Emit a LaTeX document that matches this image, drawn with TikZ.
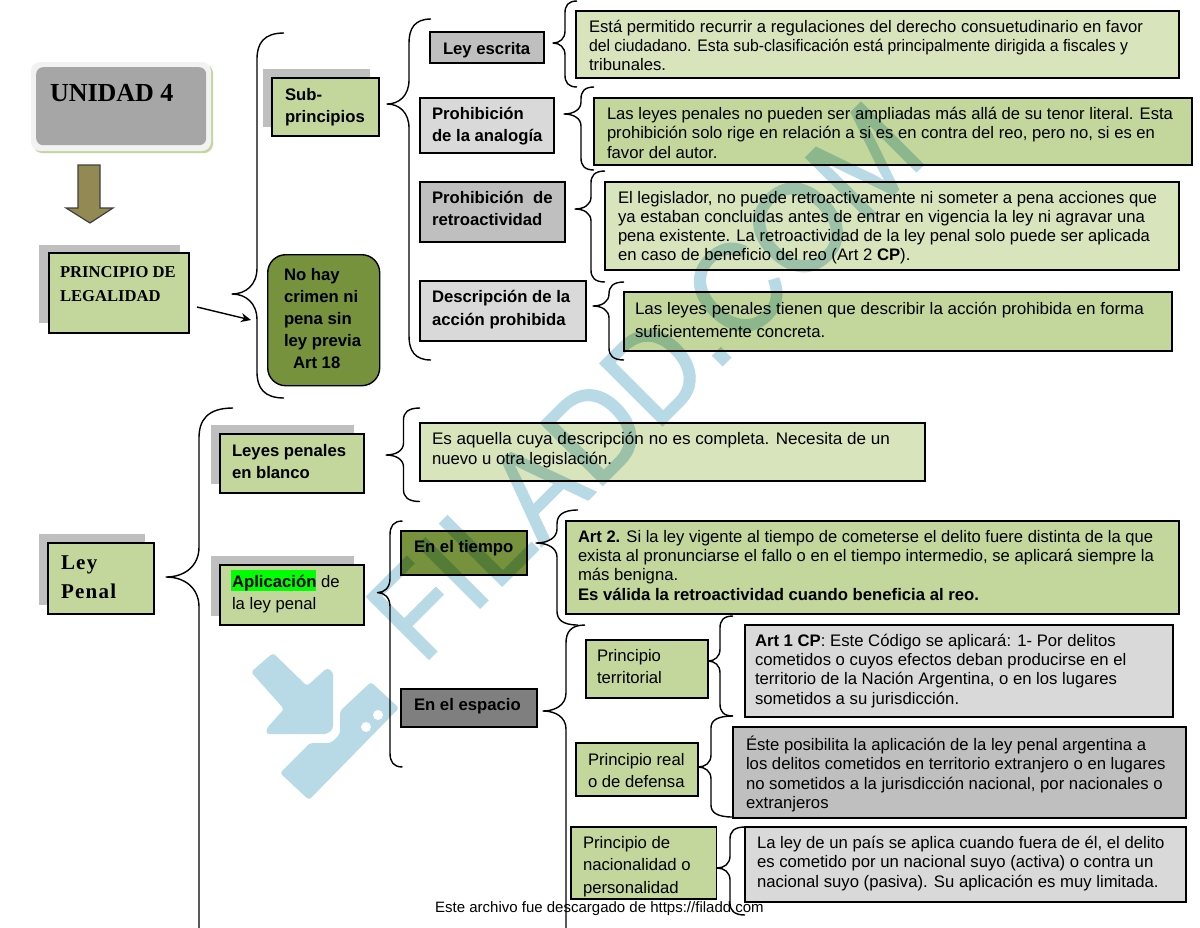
\documentclass[tikz,border=0pt]{standalone}
\usepackage{graphicx}
\usepackage{fontspec}
\setmainfont{Liberation Sans}
\newfontfamily\capfont{Liberation Serif}
\usetikzlibrary{arrows.meta}
\definecolor{gL}{HTML}{D8E4BC}
\definecolor{gM}{HTML}{C3D69B}
\definecolor{gD}{HTML}{76923C}
\definecolor{shd}{HTML}{BFBFBF}
\definecolor{gy}{HTML}{D9D9D9}
\definecolor{gyD}{HTML}{7F7F7F}
\definecolor{olv}{HTML}{938953}
\definecolor{wm}{HTML}{B8DAE6}
\tikzset{
  boxs/.style={draw=black,line width=1.4pt,inner sep=0pt,outer sep=0pt,anchor=north west},
  brc/.style={draw=black,line width=1.4pt,line join=round},
}
% box: name x1 y1 x2 y2 fill
\newcommand\bx[6]{\node[boxs,fill=#6,minimum width={(#4-#2)*1pt},minimum height={(#5-#3)*1pt}] (#1) at (#2,#3) {};}
% shadow: name x1 y1 x2 y2
\newcommand\shb[5]{\fill[shd] (#2,#3) rectangle (#4,#5) coordinate (#1);}
% text: [font cmds] name x ymid leading text
\newcommand\tx[6][]{\node[anchor=north west,inner sep=0pt,outer sep=0pt,align=left,font={\fontsize{16.7}{#5}\selectfont #1}] (#2) at (#3,#4-7) {\rule{0pt}{12pt}#6};}
% one line set to a given width
\newcommand\jl[2]{\resizebox{#1pt}{\height}{#2}}
% brace: xtip xv xend ytop ymid ybot r
\newcommand\cbr[7]{\draw[brc] (#3,#4) .. controls ({#2+0.25*(#3-#2)},#4) and (#2,{#4+0.4*#7}) .. (#2,{#4+#7}) -- (#2,{#5-#7}) .. controls (#2,{#5-0.35*#7}) and ({#2-0.45*(#2-#1)},#5) .. (#1,#5) .. controls ({#2-0.45*(#2-#1)},#5) and (#2,{#5+0.35*#7}) .. (#2,{#5+#7}) -- (#2,{#6-#7}) .. controls (#2,{#6-0.4*#7}) and ({#2+0.25*(#3-#2)},#6) .. (#3,#6);}
\begin{document}
\begin{tikzpicture}[x=1pt,y=-1pt]
\useasboundingbox (0,0) rectangle (1200,927);
\fill[white] (0,0) rectangle (1200,927);
% UNIDAD 4
\fill[gM,rounded corners=9pt] (33,64) rectangle (213,153);
\fill[black!5,rounded corners=9pt] (31,62) rectangle (211,151);
\node[fill=black!35,rounded corners=7pt,minimum width=170pt,minimum height=78pt,inner sep=0pt,anchor=north west] (unidad) at (36,67) {};
\tx[\capfont\bfseries\fontsize{26}{26}\selectfont]{tunidad}{50}{91}{26}{UNIDAD 4}
% block arrow
\filldraw[fill=olv,draw=black!75,line width=1.2pt,line join=miter] (78,165) -- (100,165) -- (100,208) -- (113,208) -- (90,223) -- (66,208) -- (78,208) -- cycle;
% Principio de legalidad
\shb{s1}{39}{245}{180}{323}
\bx{plegal}{49}{253}{189}{333}{gM}
\tx[\capfont\bfseries\fontsize{16.6}{24}\selectfont]{tplegal}{60}{272}{24}{PRINCIPIO DE\\LEGALIDAD}
% Sub-principios
\shb{s2}{263}{69}{370}{127}
\bx{subp}{272}{78}{379}{136}{gM}
\tx[\bfseries]{tsubp}{285}{95}{22}{Sub-\\principios}
% No hay crimen
\node[draw=black,line width=1.4pt,fill=gD,rounded corners=18pt,minimum width=112pt,minimum height=131pt,inner sep=0pt,anchor=north west] (nohay) at (267,254) {};
\tx[\bfseries]{tnohay}{284}{275}{22}{No hay\\crimen ni\\pena sin\\ley previa\\\hspace*{9pt}Art 18}
% arrow
\coordinate (a1) at (197,307);
\coordinate (a2) at (251,320);
\draw[line width=1.4pt,-{Stealth[length=10pt,width=9pt]}] (a1) -- (a2);
% braces upper
\cbr{232}{257}{284}{33}{294}{398}{26}
\cbr{387}{409}{431}{19}{104}{360}{24}
\cbr{553}{565}{577}{1}{43}{87}{12}
\cbr{564}{581}{594}{87}{114}{170}{12}
\cbr{575}{591}{605}{171}{209}{282}{12}
\cbr{593}{609}{624}{282}{306}{360}{12}
% left column
\bx{lesc}{430}{32}{544}{63}{shd}
\tx[\bfseries]{tlesc}{443}{49}{22}{Ley escrita}
\bx{pana}{420}{98}{554}{153}{gy}
\tx[\bfseries]{tpana}{432}{114}{22}{Prohibición\\de la analogía}
\bx{pret}{420}{182}{565}{242}{shd}
\tx[\bfseries]{tpret}{432}{198}{22}{Prohibición\ \ de\\retroactividad}
\bx{desc}{420}{281}{586}{341}{gy}
\tx[\bfseries]{tdesc}{432}{297}{23}{Descripción de la\\acción prohibida}
% right column
\bx{b1}{576}{11}{1179}{78}{gL}
\tx{tb1}{589}{27}{19}{\jl{554}{Está permitido recurrir a regulaciones del derecho consuetudinario en favor}\\\jl{539}{del ciudadano. Esta sub-clasificación está principalmente dirigida a fiscales y}\\tribunales.}
\bx{b2}{594}{98}{1192}{165}{gM}
\tx{tb2}{607}{114}{19.5}{\jl{566}{Las leyes penales no pueden ser ampliadas más allá de su tenor literal. Esta}\\\jl{548}{prohibición solo rige en relación a si es en contra del reo, pero no, si es en}\\favor del autor.}
\bx{b3}{605}{182}{1179}{270}{gL}
\tx{tb3}{618}{198}{19.2}{\jl{539}{El legislador, no puede retroactivamente ni someter a pena acciones que}\\\jl{527}{ya estaban concluidas antes de entrar en vigencia la ley ni agravar una}\\\jl{532}{pena existente. La retroactividad de la ley penal solo puede ser aplicada}\\en caso de beneficio del reo (Art 2 \textbf{CP}).}
\bx{b4}{624}{292}{1172}{351}{gM}
\tx{tb4}{635}{309}{23}{\jl{509}{Las leyes penales tienen que describir la acción prohibida en forma}\\suficientemente concreta.}
% Ley penal
\shb{s3}{39}{534}{145}{605}
\bx{lpen}{48}{543}{154}{614}{gM}
\tx[\capfont\bfseries\fontsize{21}{29}\selectfont\addfontfeature{LetterSpace=6}]{tlpen}{61}{563}{29}{Ley\\Penal}
\cbr{166}{199}{233}{408}{577}{960}{30}
% Leyes penales en blanco
\shb{s4}{211}{425}{354}{484}
\bx{lblanco}{220}{434}{364}{493}{gM}
\tx[\bfseries]{tlblanco}{232}{451}{22}{Leyes penales\\en blanco}
\shb{s5}{211}{556}{354}{616}
\bx{aplic}{220}{565}{364}{625}{gM}
\fill[green] (231,570) rectangle (316,591);
\tx{taplic}{232}{582}{22}{\textbf{Aplicación} de\\la ley penal}
\cbr{386}{403.5}{420}{408}{455}{501.5}{12}
\bx{aquella}{420}{423}{925}{481}{gL}
\tx{taquella}{432}{439}{20}{\jl{458}{Es aquella cuya descripción no es completa. Necesita de un}\\nuevo u otra legislación.}
\cbr{377.5}{390}{402.5}{521}{592.6}{767}{14}
\bx{tiempo}{401}{531}{527}{575}{gD}
\tx[\bfseries]{ttiempo}{414}{547}{20}{En el tiempo}
\bx{espacio}{401}{689}{537}{727}{gyD}
\tx[\bfseries]{tespacio}{414}{705}{20}{En el espacio}
\cbr{536}{557}{578}{510}{543}{625}{14}
\bx{art2}{566}{521}{1179}{614}{gM}
\tx{tart2}{578}{537}{19.3}{\jl{575}{\textbf{Art 2.} Si la ley vigente al tiempo de cometerse el delito fuere distinta de la que}\\\jl{576}{exista al pronunciarse el fallo o en el tiempo intermedio, se aplicará siempre la}\\más benigna.\\\textbf{Es válida la retroactividad cuando beneficia al reo.}}
\cbr{543}{566}{585}{625}{711}{960}{18}
\bx{pterr}{586}{640}{708}{698}{gM}
\tx{tpterr}{597}{656}{22}{Principio\\territorial}
\cbr{708}{720}{733}{616}{661}{716}{12}
\bx{art1}{745}{625}{1173}{717}{gy}
\tx{tart1}{755}{641}{19.3}{\textbf{Art 1 CP}: Este Código se aplicará: 1- Por delitos\\cometidos o cuyos efectos deban producirse en el\\territorio de la Nación Argentina, o en los lugares\\sometidos a su jurisdicción.}
\bx{preal}{576}{743}{698}{796}{gM}
\tx{tpreal}{588}{760}{22}{Principio real\\o de defensa}
\cbr{698}{711}{733}{716}{767}{817}{12}
\bx{este}{733}{727}{1186}{818}{shd}
\tx{teste}{746}{743}{19.3}{Éste posibilita la aplicación de la ley penal argentina a\\los delitos cometidos en territorio extranjero o en lugares\\no sometidos a la jurisdicción nacional, por nacionales o\\extranjeros}
\bx{pnac}{571}{827}{716.5}{899}{gM}
\tx{tpnac}{583}{843}{22.5}{Principio de\\nacionalidad o\\personalidad}
\cbr{717}{730}{745}{827}{868}{915}{12}
\bx{lapais}{745}{827}{1186}{902}{gy}
\tx{tlapais}{757}{843}{19.5}{La ley de un país se aplica cuando fuera de él, el delito\\es cometido por un nacional suyo (activa) o contra un\\nacional suyo (pasiva). Su aplicación es muy limitada.}
% footer
\node[anchor=base west,inner sep=0pt,font={\fontsize{15}{16}\selectfont}] (footer) at (435,912) {Este archivo fue descargado de https://filadd.com};
% watermark
\begin{scope}[blend mode=multiply,transparency group]
\node[anchor=base west,inner sep=0pt,rotate=45,text=wm,font={\fontsize{128}{128}\selectfont\addfontfeature{FakeBold=1.2}}] (wmark) at (422,666) {\scalebox{.91}[1]{FILADD.COM}};
\end{scope}
\begin{scope}[blend mode=multiply]
\fill[wm,rounded corners=3pt] (251,672) -- (273,653) -- (307,686) -- (327,668) -- (333,672) -- (333,729) -- (327,734) -- (266,734) -- (267,728) -- (284,709) -- cycle;
\fill[wm,rounded corners=3pt] (280,773) -- (310,743) -- (331,743) -- (340,734) -- (340,711) -- (371,682) -- (399,708) -- (309,800) -- cycle;
\end{scope}
\fill[white] (366,727) circle (5pt);
\fill[white] (378,715) circle (5pt);
\end{tikzpicture}
\end{document}
